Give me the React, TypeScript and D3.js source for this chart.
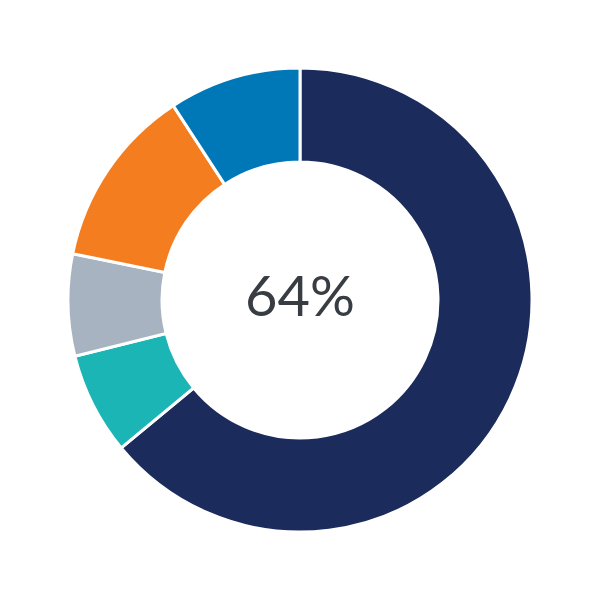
import * as d3 from 'd3';
import { useEffect, useRef } from 'react';

// slices clockwise from 12 o'clock
const categories = ['A', 'B', 'C', 'D', 'E'];
const values = [64, 7.1, 7.1, 12.6, 9.2];
const colors = ['#1b2b5b', '#1bb5b6', '#a8b3c1', '#f47d20', '#0077b6'];
const centerLabel = '64%';

interface Slice {
    name: string;
    value: number;
    color: string;
}

const data: Slice[] = categories.map((name, i) => ({ name, value: values[i], color: colors[i] }));

const App = () => {
    const ref = useRef<SVGSVGElement>(null);

    useEffect(() => {
        const width = 600;
        const height = 600;
        const outerRadius = 232;
        const innerRadius = 138;

        const svg = d3.select(ref.current);
        svg.selectAll("*").remove();  // Clear the container

        const g = svg.append("g")
            .attr("transform", `translate(${width / 2},${height / 2})`);

        const pie = d3.pie<Slice>()
            .sort(null)
            .value(d => d.value);

        const arc = d3.arc<d3.PieArcDatum<Slice>>()
            .innerRadius(innerRadius)
            .outerRadius(outerRadius);

        g.selectAll("path")
            .data(pie(data))
            .join("path")
            .attr("d", arc)
            .attr("fill", d => d.data.color)
            .attr("stroke", "#ffffff")
            .attr("stroke-width", 3);

        // Center label
        g.append("text")
            .attr("text-anchor", "middle")
            .attr("dy", "0.28em")
            .style("font-family", "Lato, 'Open Sans', sans-serif")
            .style("font-size", "56px")
            .style("font-weight", 400)
            .style("fill", "#383d44")
            .text(centerLabel);
    }, []);

    return (
        <svg
            ref={ref}
            width={600}
            height={600}
            style={{ position: 'absolute', left: 0, top: 0, background: '#ffffff' }}
        />
    );
};

export default App;
